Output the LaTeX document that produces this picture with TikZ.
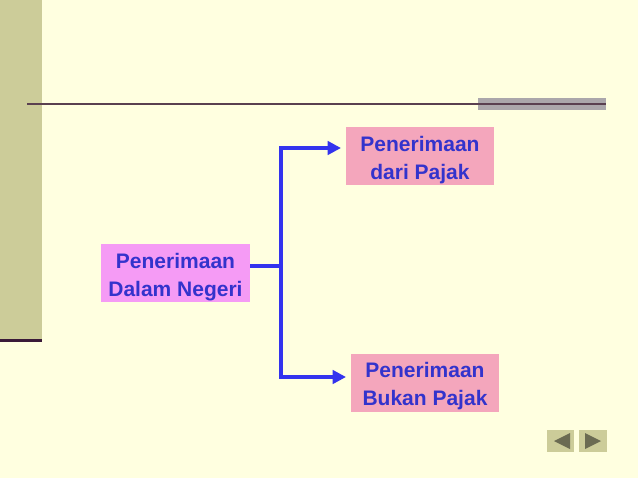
\documentclass[tikz,border=0pt]{standalone}
\usepackage{fontspec}
\setmainfont{Liberation Sans}
\usetikzlibrary{arrows.meta}
\definecolor{bg}{HTML}{FFFFE0}
\definecolor{strip}{HTML}{CCCC99}
\definecolor{rule}{HTML}{5A4050}
\definecolor{ruledark}{HTML}{3A1A38}
\definecolor{greybar}{HTML}{ABA7AB}
\definecolor{pinkbox}{HTML}{F4A6BC}
\definecolor{magbox}{HTML}{F59BF5}
\definecolor{bluetxt}{HTML}{3333CC}
\definecolor{blueline}{HTML}{3333EE}
\definecolor{navtri}{HTML}{6B6B52}
\newcommand{\boxtext}[3]{\raisebox{#1}[0pt][0pt]{\begin{tabular}[t]{@{}c@{}}#2\\#3\end{tabular}}}
\tikzset{
  box/.style={fill=#1, inner sep=0pt, text=bluetxt, font=\fontsize{15.75pt}{21pt}\selectfont\bfseries},
  arr/.style={draw=blueline, line width=3pt, -{Triangle[length=10pt,width=10pt]}},
  conn/.style={draw=blueline, line width=3pt},
  navbtn/.style={fill=strip, draw=none},
}
\begin{document}
\begin{tikzpicture}[x=0.75pt,y=-0.75pt]
\useasboundingbox (0,0) rectangle (638,478);
\fill[bg] (0,0) rectangle (638,478);
% left strip
\fill[strip] (0,0) rectangle (42,340);
\fill[ruledark] (0,338.5) rectangle (42,341.5);
% top rule with grey bar
\fill[greybar] (478,98) rectangle (606,110);
\draw[rule, line width=1.6pt] (27,104) -- (606,104);
% boxes
\node[box=magbox, minimum width=149*0.75pt, minimum height=58*0.75pt] (dn) at (175.5,273) {\boxtext{3.5pt}{Penerimaan}{Dalam Negeri}};
\node[box=pinkbox, minimum width=148*0.75pt, minimum height=58*0.75pt] (dp) at (420,155.5) {\boxtext{2.9pt}{Penerimaan}{dari Pajak}};
\node[box=pinkbox, minimum width=148*0.75pt, minimum height=58*0.75pt] (bp) at (425,383) {\boxtext{4.2pt}{Penerimaan}{Bukan Pajak}};
% connectors
\coordinate (j) at (281,266);
\coordinate (ta) at (341,148);
\coordinate (ba) at (346,377);
\draw[conn] (dn.east |- j) -- (j);
\draw[arr] (j) -- (j |- ta) -- (ta);
\draw[arr] (j) -- (j |- ba) -- (ba);
% navigation buttons
\fill[navbtn] (547,430) rectangle (574,452);
\fill[navbtn] (579,430) rectangle (607,452);
\fill[navtri] (554,441) -- (570,433) -- (570,449) -- cycle;
\fill[navtri] (601,441) -- (585,433) -- (585,449) -- cycle;
\end{tikzpicture}
\end{document}
